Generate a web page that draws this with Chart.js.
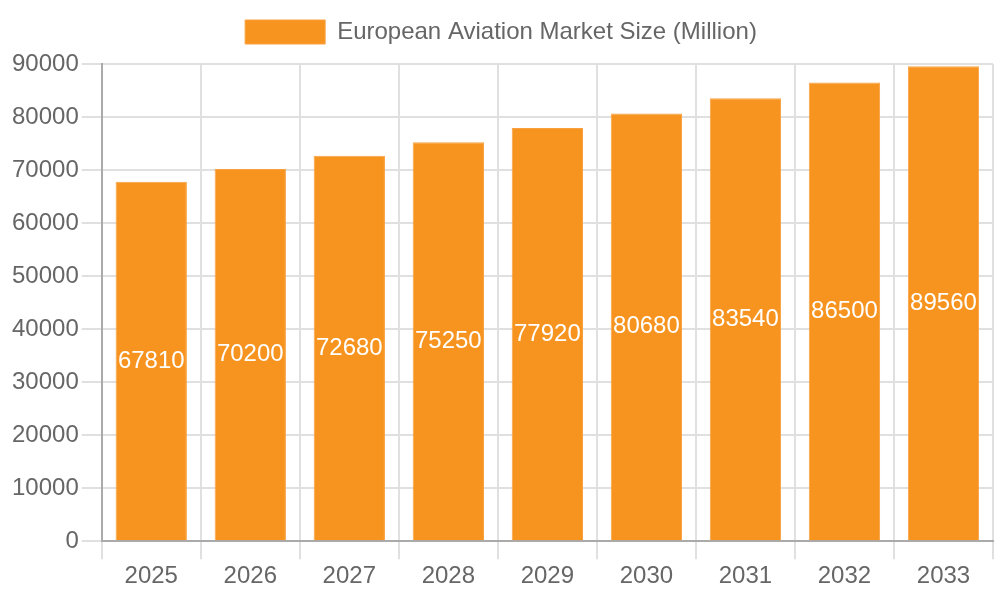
<!DOCTYPE html>
<html>
<head>
<meta charset="utf-8">
<script src="https://cdn.jsdelivr.net/npm/chart.js@4"></script>
<style>
  html, body { margin: 0; padding: 0; background: #fff; }
  #wrap { width: 1000px; height: 600px; }
</style>
</head>
<body>
<div id="wrap"><canvas id="marketChart"></canvas></div>
<script>
const years = ['2025', '2026', '2027', '2028', '2029', '2030', '2031', '2032', '2033'];
const marketSize = [67810, 70200, 72680, 75250, 77920, 80680, 83540, 86500, 89560];
const seriesLabel = 'European Aviation Market Size (Million)';

// draws each value in white at the middle of its bar
const barValues = {
    id: 'barValues',
    afterDatasetsDraw(chart) {
        const ctx = chart.ctx;
        const meta = chart.getDatasetMeta(0);
        ctx.save();
        ctx.fillStyle = '#fff';
        ctx.font = '24px "Liberation Sans", Arial, sans-serif';
        ctx.textAlign = 'center';
        ctx.textBaseline = 'middle';
        meta.data.forEach((bar, i) => {
            const mid = (bar.y + bar.base) / 2;
            ctx.fillText(chart.data.datasets[0].data[i], bar.x, mid);
        });
        ctx.restore();
    }
};

// a bit more room under the legend
const legendGap = {
    id: 'legendGap',
    beforeInit(chart) {
        const fit = chart.legend.fit;
        chart.legend.fit = function () {
            fit.bind(chart.legend)();
            this.height += 10;
        };
    }
};

Chart.defaults.font.family = '"Liberation Sans", Arial, sans-serif';
Chart.defaults.font.size = 24;
Chart.defaults.color = '#666';

new Chart(document.getElementById('marketChart'), {
    type: 'bar',
    data: {
        labels: years,
        datasets: [{
            label: seriesLabel,
            data: marketSize,
            backgroundColor: '#F7941F',
            borderColor: '#F9A040',
            borderWidth: 1
        }]
    },
    options: {
        responsive: true,
        maintainAspectRatio: false,
        animation: false,
        layout: {
            padding: { top: 10, left: 9, right: 7, bottom: 6 }
        },
        plugins: {
            legend: {
                labels: { boxWidth: 80 }
            },
            tooltip: { enabled: false }
        },
        scales: {
            x: {
                grid: { color: '#e0e0e0', lineWidth: 2, tickLength: 18 },
                border: { color: '#aaa', width: 2 }
            },
            y: {
                beginAtZero: true,
                max: 90000,
                ticks: {
                    stepSize: 10000,
                    callback: v => String(v)
                },
                grid: { color: '#e0e0e0', lineWidth: 2, tickLength: 20 },
                border: { color: '#aaa', width: 2 }
            }
        }
    },
    plugins: [barValues, legendGap]
});
</script>
</body>
</html>
